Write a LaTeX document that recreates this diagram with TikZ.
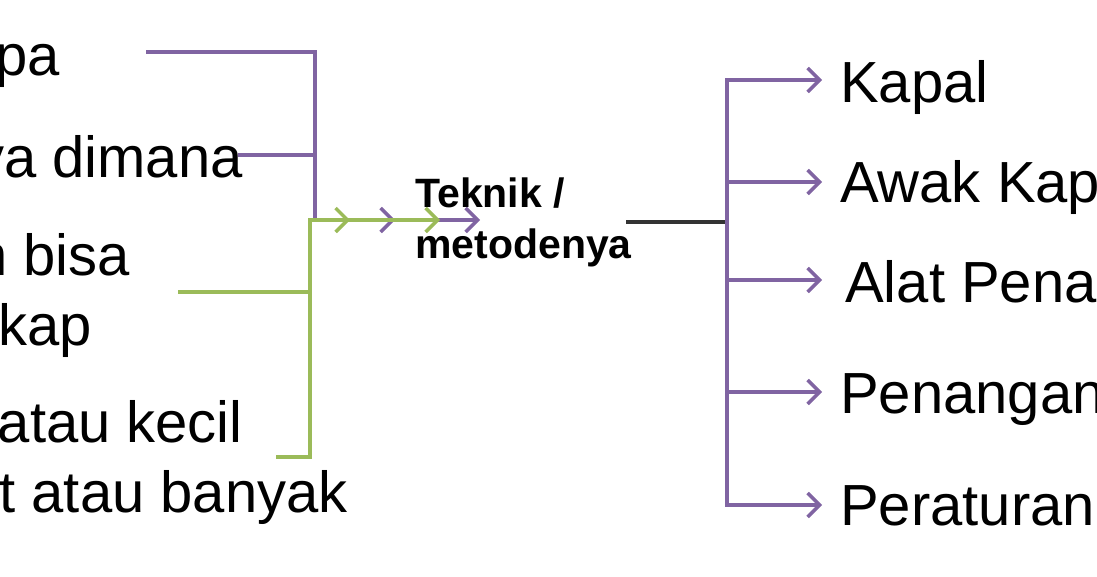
\documentclass[tikz,border=0pt]{standalone}
\usepackage{fontspec}
\setmainfont{Liberation Sans}
\usetikzlibrary{arrows.meta}
\definecolor{pur}{HTML}{8064A2}
\definecolor{grn}{HTML}{9BBB59}
\begin{document}
\begin{tikzpicture}[x=1pt,y=-1pt,
  ln/.style={line width=3.5pt,line cap=rect},
  tip/.style={-{Straight Barb[length=12pt,width=24pt,line width=3.5pt]}},
  big/.style={font=\fontsize{58}{68}\selectfont,inner sep=0pt},
  lt/.style={big,anchor=base east},
  rt/.style={big,anchor=base west}]
\useasboundingbox (0,0) rectangle (1097,576);
\clip (0,0) rectangle (1097,576);
% left texts
\node[lt] (l1) at (60,75) {pa};
\node[lt] (l2) at (243,177) {ya dimana};
\node[lt] (l3) at (130,275) {n bisa};
\node[lt] (l4) at (92,345) {kap};
\node[lt] (l5) at (243,442) {atau kecil};
\node[lt] (l6) at (348,512) {t atau banyak};
% center
\node[font=\fontsize{41}{51}\selectfont\bfseries,inner sep=0pt,align=left,anchor=north west] (c) at (415,178) {Teknik /\\metodenya};
% coordinates
\coordinate (p1) at (148,52); \coordinate (p2) at (240,155);
\coordinate (pj) at (315,52); \coordinate (pm) at (315,155); \coordinate (pb) at (315,220);
\coordinate (g1) at (180,292); \coordinate (g2) at (278,457);
\coordinate (gt) at (310,220); \coordinate (gm) at (310,292); \coordinate (gb) at (310,457);
% purple bracket
\draw[ln,pur] (p1) -- (pj) -- (pb);
\draw[ln,pur] (p2) -- (pm);
\draw[ln,pur,tip] (pb) -- (480,220);
\draw[ln,pur,tip] (pb) -- (395,220);
% green bracket
\draw[ln,grn] (g1) -- (gm);
\draw[ln,grn] (g2) -- (gb) -- (gt);
\draw[ln,grn,tip] (gt) -- (440,220);
\draw[ln,grn,tip] (gt) -- (350,220);
% right
\coordinate (rs) at (628,222); \coordinate (rj) at (727,222);
\draw[ln,black!80] (rs) -- (rj);
\draw[ln,pur] (727,80) -- (727,505);
\node[rt] (r1) at (840,102) {Kapal};
\node[rt] (r2) at (840,202) {Awak Kapal};
\node[rt] (r3) at (845,302) {Alat Penangkapan};
\node[rt] (r4) at (840,413) {Penanganan};
\node[rt] (r5) at (840,525) {Peraturan};
\foreach \y in {80,182,280,392,505}
  \draw[ln,pur,tip] (727,\y) -- (822,\y);
\end{tikzpicture}
\end{document}
